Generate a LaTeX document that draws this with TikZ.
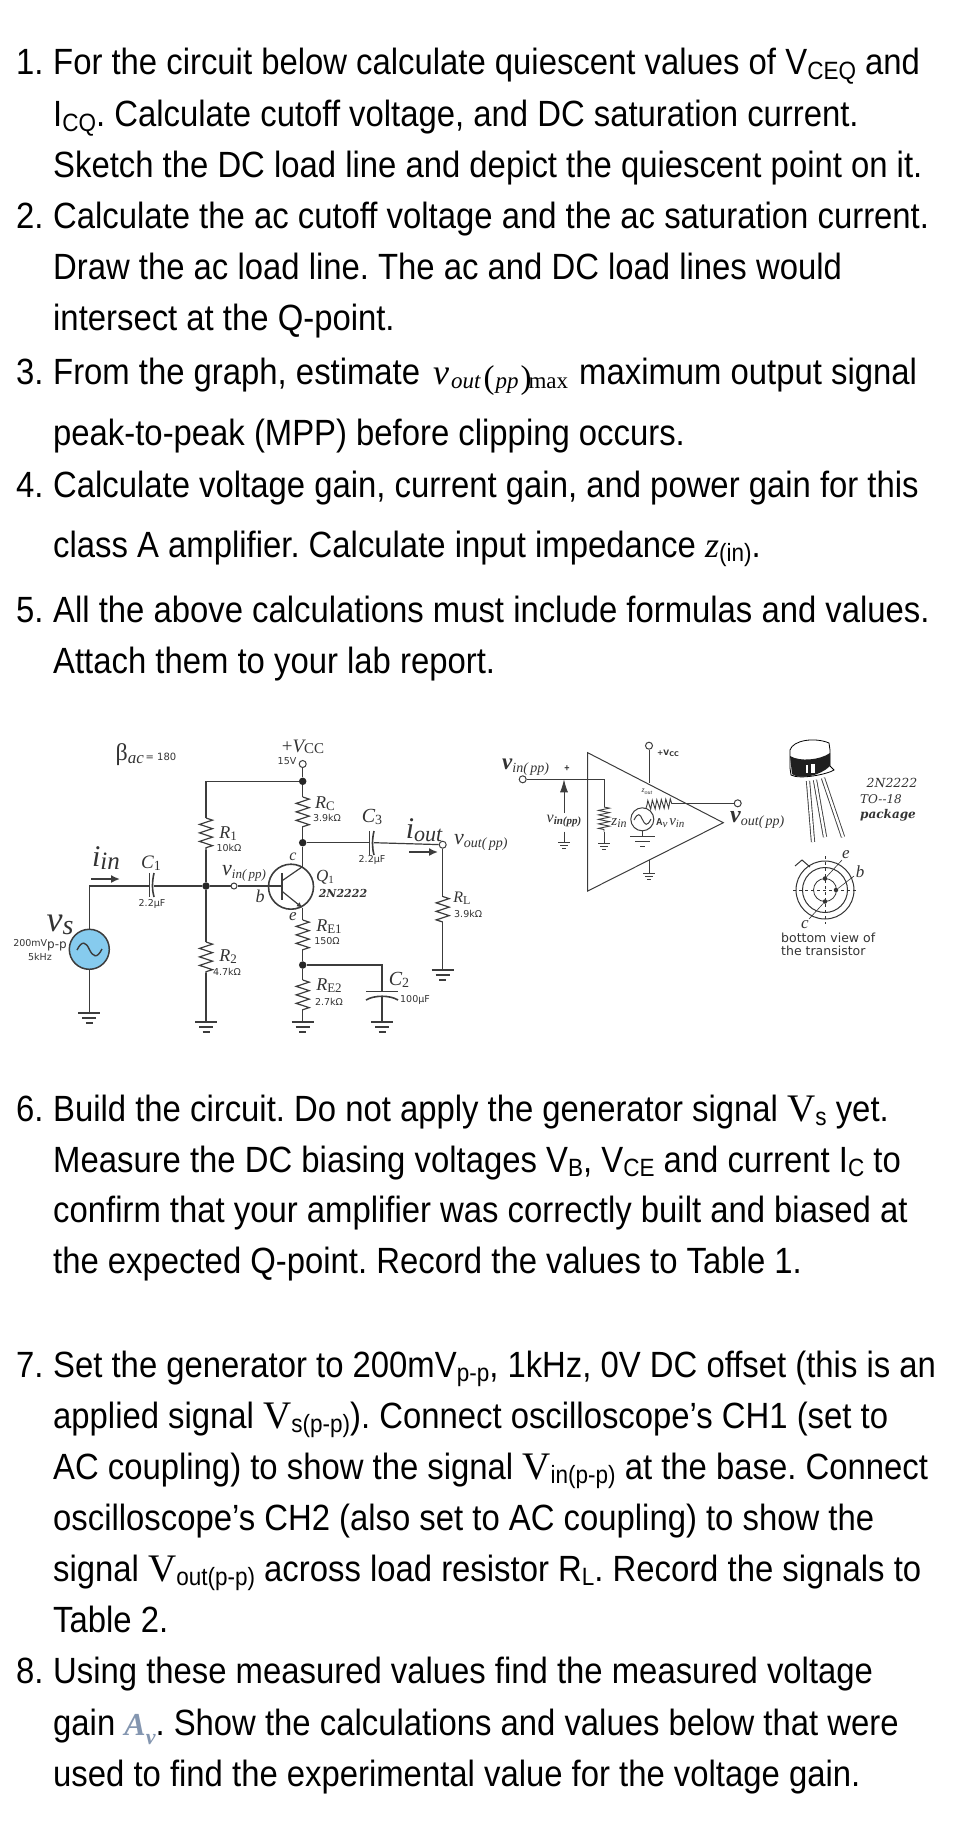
\documentclass[tikz,border=0pt]{standalone}
\usepackage{fontspec}
\setmainfont{Liberation Sans}[FakeStretch=0.90]
\newfontfamily\serfont{Liberation Serif}
\newfontfamily\labfont{DejaVu Sans}
\newfontfamily\pkgfont{DejaVu Serif}
\usetikzlibrary{decorations.pathmorphing,arrows.meta,calc}
\definecolor{wirecol}{HTML}{3C3C3C}
\definecolor{srcblue}{HTML}{86CBEE}
\definecolor{avcol}{HTML}{8496B0}
\newcommand{\lsub}[1]{\raisebox{-0.12em}{\fontsize{25}{25}\selectfont #1}}
\newcommand{\sv}[1]{{\fontsize{39}{39}\serfont #1}}
\newcommand{\lab}[2]{{\serfont\itshape\fontsize{#1}{#1}\selectfont #2}}
\newcommand{\dn}[2]{\raisebox{-0.3ex}{\fontsize{#1}{#1}\selectfont #2}}
\tikzset{
    txt/.style={anchor=base west, inner sep=0pt, font=\fontsize{36.5}{40}\selectfont},
    wire/.style={draw=wirecol, line width=1.2pt},
    res/.style={wire, decorate, decoration={zigzag, amplitude=6.5pt, segment length=8.5pt}},
    open/.style={circle, draw=wirecol, fill=white, line width=1pt, minimum size=7pt, inner sep=0pt},
    dot/.style={circle, fill=black!85, minimum size=7.5pt, inner sep=0pt},
    val/.style={inner sep=0pt, font=\labfont\fontsize{9.5}{10}\selectfont, text=black!80},
    sym/.style={inner sep=0pt, text=black!80},
    pics/gnd/.style={code={
        \draw[wirecol, line width=1.5pt] (-11,0) -- (11,0);
        \draw[wirecol, line width=1.5pt] (-7,5) -- (7,5);
        \draw[wirecol, line width=1.5pt] (-3.5,10) -- (3.5,10);
    }},
    pics/gndb/.style={code={
        \draw[wirecol, line width=1pt] (-6,0) -- (6,0);
        \draw[wirecol, line width=1pt] (-4,3) -- (4,3);
        \draw[wirecol, line width=1pt] (-2,6) -- (2,6);
    }}
}
\begin{document}
\frenchspacing
\begin{tikzpicture}[x=1pt,y=-1pt]
\useasboundingbox (0,0) rectangle (967,1822);

% questions above the circuit
\node[txt] (n1) at (16,75) {1.};
\node[txt] (l1) at (53,75) {For the circuit below calculate quiescent values of V\lsub{CEQ} and};
\node[txt] (l2) at (53,127) {I\lsub{CQ}. Calculate cutoff voltage, and DC saturation current.};
\node[txt] (l3) at (53,178) {Sketch the DC load line and depict the quiescent point on it.};
\node[txt] (n2) at (16,229) {2.};
\node[txt] (l4) at (53,229) {Calculate the ac cutoff voltage and the ac saturation current.};
\node[txt] (l5) at (53,279) {Draw the ac load line. The ac and DC load lines would};
\node[txt] (l6) at (53,330) {intersect at the Q-point.};
\node[txt] (n3) at (16,384) {3.};
\node[txt] (l7) at (53,384) {From the graph, estimate};
\node[anchor=base west, inner sep=0pt] (vmax) at (433,384) {\lab{36}{v}\raisebox{-0.4em}{\hspace{2pt}\lab{23}{out}\hspace{3pt}\lab{33}{\upshape(}\hspace{1pt}\lab{23}{pp}\hspace{2pt}\lab{33}{\upshape)}\hspace{-3pt}{\serfont\fontsize{23}{23}\selectfont max}}};
\node[txt] (l8) at (579,384) {maximum output signal};
\node[txt] (l9) at (53,445) {peak-to-peak (MPP) before clipping occurs.};
\node[txt] (n4) at (16,497) {4.};
\node[txt] (l10) at (53,497) {Calculate voltage gain, current gain, and power gain for this};
\node[txt] (l11) at (53,557) {class A amplifier. Calculate input impedance \lab{36}{z}\lsub{(in)}.};
\node[txt] (n5) at (16,622) {5.};
\node[txt] (l12) at (53,622) {All the above calculations must include formulas and values.};
\node[txt] (l13) at (53,673) {Attach them to your lab report.};

% questions below the circuit
\node[txt] (n6) at (16,1121) {6.};
\node[txt] (l14) at (53,1121) {Build the circuit. Do not apply the generator signal \sv{V}\lsub{s} yet.};
\node[txt] (l15) at (53,1172) {Measure the DC biasing voltages V\lsub{B}, V\lsub{CE} and current I\lsub{C} to};
\node[txt] (l16) at (53,1222) {confirm that your amplifier was correctly built and biased at};
\node[txt] (l17) at (53,1273) {the expected Q-point. Record the values to Table 1.};
\node[txt] (n7) at (16,1377) {7.};
\node[txt] (l18) at (53,1377) {Set the generator to 200mV\lsub{p-p}, 1kHz, 0V DC offset (this is an};
\node[txt] (l19) at (53,1428) {applied signal \sv{V}\lsub{s(p-p)}). Connect oscilloscope's CH1 (set to};
\node[txt] (l20) at (53,1479) {AC coupling) to show the signal \sv{V}\lsub{in(p-p)} at the base. Connect};
\node[txt] (l21) at (53,1530) {oscilloscope's CH2 (also set to AC coupling) to show the};
\node[txt] (l22) at (53,1581) {signal \sv{V}\lsub{out(p-p)} across load resistor R\lsub{L}. Record the signals to};
\node[txt] (l23) at (53,1632) {Table 2.};
\node[txt] (n8) at (16,1683) {8.};
\node[txt] (l24) at (53,1683) {Using these measured values find the measured voltage};
\node[txt] (l25) at (53,1735) {gain \textcolor{avcol}{\lab{32}{\bfseries A}\raisebox{-0.25em}{\lab{22}{\bfseries v}}}. Show the calculations and values below that were};
\node[txt] (l26) at (53,1786) {used to find the experimental value for the voltage gain.};

% bias network
\node[open] (vcc) at (302.7,764) {};
\node[dot] (top) at (302.7,781.3) {};
\coordinate (topl) at (206,781.3);
\coordinate (r1a) at (206,818);
\coordinate (r1b) at (206,850);
\node[dot] (base) at (206,886) {};
\coordinate (r2a) at (206,942);
\coordinate (r2b) at (206,973);
\coordinate (g2) at (206,1022);
\draw[wire] (vcc) -- (top) -- (topl) -- (r1a);
\draw[res] (r1a) -- (r1b);
\draw[wire] (r1b) -- (base) -- (r2a);
\draw[res] (r2a) -- (r2b);
\draw[wire] (r2b) -- (g2);
\pic at (g2) {gnd};

% source and input
\node[circle, draw=wirecol, fill=srcblue, line width=1.5pt, minimum size=40pt, inner sep=0pt] (vs) at (89.3,949.3) {};
\draw[wirecol, line width=1.4pt] (77,950) .. controls (82,940) and (86,942) .. (89.3,949.3) .. controls (93,957) and (97,959) .. (102,949);
\coordinate (vscor) at (89.3,886);
\coordinate (c1l) at (149.5,886);
\coordinate (c1r) at (154,886);
\coordinate (gs) at (89.3,1013);
\draw[wire] (vs) -- (vscor) -- (c1l);
\draw[wire] (c1r) -- (base);
\draw[wire] (vs) -- (gs);
\pic at (gs) {gnd};
\draw[wirecol, line width=1.6pt] (149.5,873) -- (149.5,897);
\draw[wirecol, line width=1.6pt] (154,873) .. controls (152,882) and (152,890) .. (154,897);
\draw[-{Latex[length=9pt,width=8pt]}, wirecol, line width=1.6pt] (91,879) -- (120,879);

% transistor
\node[open, minimum size=6pt] (vb) at (234,886) {};
\node[circle, draw=wirecol, line width=1.6pt, minimum size=45pt, inner sep=0pt] (q1) at (291,886.7) {};
\coordinate (qb) at (281.7,886);
\coordinate (qc) at (302.7,866.5);
\coordinate (qe) at (302.7,908);
\draw[wire] (base) -- (vb) -- (qb);
\draw[wirecol, line width=2pt] (281.7,873) -- (281.7,900);
\draw[wire] (281.7,881) -- (qc);
\draw[wire, -{Latex[length=6pt,width=5pt]}] (281.7,891) -- (qe);

% collector side
\node[dot] (cn) at (302.7,842.7) {};
\coordinate (rca) at (302.7,797);
\coordinate (rcb) at (302.7,827);
\draw[wire] (top) -- (rca);
\draw[res] (rca) -- (rcb);
\draw[wire] (rcb) -- (cn) -- (qc);
\node[open] (vo) at (442.7,844.7) {};
\coordinate (c3l) at (369.5,842.7);
\coordinate (c3r) at (374,842.7);
\coordinate (voc) at (442.7,842.7);
\draw[wire] (cn) -- (c3l);
\draw[wire] (c3r) -- (vo);
\draw[wirecol, line width=1.6pt] (369.5,831) -- (369.5,855);
\draw[wirecol, line width=1.6pt] (374,831) .. controls (372,840) and (372,847) .. (374,855);
\draw[-{Latex[length=9pt,width=8pt]}, wirecol, line width=1.6pt] (409,852) -- (438,852);
\coordinate (rla) at (442.7,896.5);
\coordinate (rlb) at (442.7,922);
\coordinate (gl) at (442.7,970);
\draw[wire] (vo) -- (rla);
\draw[res] (rla) -- (rlb);
\draw[wire] (rlb) -- (gl);
\pic at (gl) {gnd};

% emitter side
\coordinate (rea) at (302.7,920);
\coordinate (reb) at (302.7,950);
\node[dot] (en) at (302.7,965) {};
\coordinate (rfa) at (302.7,980);
\coordinate (rfb) at (302.7,1010);
\coordinate (g3) at (302.7,1022);
\coordinate (c2cor) at (382,965);
\coordinate (c2a) at (382,991.5);
\coordinate (c2b) at (382,997);
\coordinate (g4) at (382,1022);
\draw[wire] (qe) -- (rea);
\draw[res] (rea) -- (reb);
\draw[wire] (reb) -- (en) -- (rfa);
\draw[res] (rfa) -- (rfb);
\draw[wire] (rfb) -- (g3);
\pic at (g3) {gnd};
\draw[wire] (en) -- (c2cor) -- (c2a);
\draw[wirecol, line width=1.6pt] (366,991.5) -- (398,991.5);
\draw[wirecol, line width=1.6pt] (366,1000) .. controls (374,995) and (390,995) .. (398,1000);
\draw[wire] (c2b) -- (g4);
\pic at (g4) {gnd};

% circuit labels
\node[sym] (beta) at (146,755) {{\serfont\fontsize{24}{24}\selectfont β}\raisebox{-0.3em}{\lab{17}{ac}}\,{\labfont\fontsize{10}{10}\selectfont = 180}};
\node[sym] (vcclab) at (303,747) {\lab{19}{{\upshape+}V}\raisebox{-0.15em}{\lab{15}{\upshape CC}}};
\node[val] (v15) at (287,761) {15V};
\node[sym] (iin) at (106,858) {\lab{30}{i}\raisebox{-0.3em}{\lab{25}{in}}};
\node[sym] (c1lab) at (151,863) {\lab{19}{C}\raisebox{-0.2em}{\lab{14}{\upshape 1}}};
\node[val] (c1val) at (152,904) {2.2µF};
\node[sym] (vslab) at (60,925) {\lab{36}{v}\raisebox{-0.25em}{\lab{28}{s}}};
\node[val, align=center] (vsval) at (40,950) {200mV\dn{12}{p-p}\\[1pt]5kHz};
\node[sym] (r1lab) at (228,834) {\lab{18}{R}\raisebox{-0.2em}{\lab{13}{\upshape 1}}};
\node[val] (r1val) at (229,848) {10kΩ};
\node[sym] (r2lab) at (228,957) {\lab{18}{R}\raisebox{-0.2em}{\lab{13}{\upshape 2}}};
\node[val] (r2val) at (227,972) {4.7kΩ};
\node[sym] (vinlab) at (244,873) {\lab{22}{v}\raisebox{-0.3em}{\lab{13}{in(\,pp)}}};
\node[sym] (clab) at (293,857) {\lab{16}{c}};
\node[sym] (blab) at (260,896) {\lab{18}{b}};
\node[sym] (elab) at (293,917) {\lab{17}{e}};
\node[sym] (q1lab) at (325,877) {\lab{17}{Q}\raisebox{-0.2em}{\lab{11}{\upshape 1}}};
\node[sym, font=\pkgfont\itshape\bfseries\fontsize{11}{11}\selectfont] (q1name) at (343,893) {2N2222};
\node[sym] (rclab) at (325,804) {\lab{18}{R}\raisebox{-0.2em}{\lab{13}{\upshape C}}};
\node[val] (rcval) at (327,818) {3.9kΩ};
\node[sym] (c3lab) at (372,817) {\lab{20}{C}\raisebox{-0.2em}{\lab{14}{\upshape 3}}};
\node[val] (c3val) at (372,860) {2.2µF};
\node[sym] (ioutlab) at (424,830) {\lab{30}{i}\raisebox{-0.3em}{\lab{22}{out}}};
\node[sym, anchor=west] (volab) at (454,842) {\lab{22}{v}\raisebox{-0.3em}{\lab{14}{out(\,pp)}}};
\node[sym] (rllab) at (462,898) {\lab{16}{R}\raisebox{-0.2em}{\lab{12}{\upshape L}}};
\node[val, anchor=west] (rlval) at (454,914) {3.9kΩ};
\node[sym] (re1lab) at (329,927) {\lab{18}{R}\raisebox{-0.2em}{\lab{13}{\upshape E1}}};
\node[val] (re1val) at (327,941) {150Ω};
\node[sym] (re2lab) at (329,986) {\lab{18}{R}\raisebox{-0.2em}{\lab{13}{\upshape E2}}};
\node[val] (re2val) at (329,1002) {2.7kΩ};
\node[sym] (c2lab) at (399,980) {\lab{20}{C}\raisebox{-0.2em}{\lab{14}{\upshape 2}}};
\node[val] (c2val) at (415,1000) {100µF};

% amplifier block
\coordinate (ta) at (587.7,752.7);
\coordinate (tb) at (587.7,891);
\coordinate (tc) at (723.3,822.7);
\draw[wirecol, line width=1pt] (ta) -- (tb) -- (tc) -- cycle;
\node[open] (ain) at (522.7,779.3) {};
\coordinate (zcor) at (604,779.3);
\coordinate (za) at (604,807);
\coordinate (zb) at (604,831.7);
\coordinate (gz) at (604,843);
\draw[wire, line width=0.9pt] (ain) -- (zcor) -- (za);
\draw[wire, line width=0.9pt, decorate, decoration={zigzag, amplitude=5.5pt, segment length=4.5pt}] (za) -- (zb);
\draw[wire, line width=0.9pt] (zb) -- (gz);
\pic at (gz) {gndb};
\coordinate (arra) at (564,813);
\coordinate (arrb) at (564,779.3);
\coordinate (arrc) at (564,831.7);
\coordinate (garr) at (564,842);
\draw[-{Latex[length=13pt,width=8pt]}, wirecol, line width=0.9pt] (arra) -- (arrb);
\draw[wire, line width=0.9pt] (arrc) -- (garr);
\pic at (garr) {gndb};
\node[open] (avcc) at (649,745.7) {};
\coordinate (avccb) at (649,783.3);
\draw[wire, line width=0.9pt] (avcc) -- (avccb);
\coordinate (avga) at (649,860);
\coordinate (gav) at (649,873);
\draw[wire, line width=0.9pt] (avga) -- (gav);
\pic at (gav) {gndb};
\node[circle, draw=wirecol, line width=1pt, minimum size=23pt, inner sep=0pt] (avs) at (642.3,819.3) {};
\draw[wirecol, line width=1pt] (634,820) .. controls (638,812) and (640,814) .. (642.3,819.3) .. controls (645,825) and (647,827) .. (651,819);
\coordinate (avsg) at (642.3,836);
\draw[wire, line width=0.9pt] (avs) -- (avsg);
\draw[wirecol, line width=0.9pt] (630,836) -- (655,836);
\draw[wirecol, line width=0.9pt] (635,841) -- (650,841);
\draw[wirecol, line width=0.9pt] (640,846) -- (645,846);
\coordinate (zo1) at (647,805);
\coordinate (zo2) at (671.7,803.3);
\draw[wire, line width=0.9pt] (avs) -- (zo1);
\draw[wire, line width=0.9pt, decorate, decoration={zigzag, amplitude=4.5pt, segment length=4.5pt}] (zo1) -- (zo2);
\node[open] (aout) at (737.7,803.3) {};
\draw[wire, line width=0.9pt] (zo2) -- (aout);
\node[sym] (plus) at (567,769) {\fontsize{10}{10}\selectfont\bfseries +};
\node[sym, anchor=west] (avin) at (502,767) {\lab{23}{\bfseries v}\raisebox{-0.3em}{\lab{14}{in(\,pp)}}};
\node[sym] (avin2) at (564,821) {\lab{16}{v}\raisebox{-0.25em}{\lab{11}{\bfseries in(pp)}}};
\node[sym] (zinlab) at (619,823) {\lab{15}{z}\raisebox{-0.25em}{\lab{12}{in}}};
\node[sym] (zoutlab) at (647,792) {\lab{8}{z}\raisebox{-0.2em}{\lab{6}{out}}};
\node[sym, anchor=west] (avlab) at (656,823) {{\bfseries\fontsize{10}{10}\selectfont A}\raisebox{-0.2em}{\lab{11}{v}}\,\lab{15}{v}\raisebox{-0.2em}{\lab{11}{in}}};
\node[sym] (vcc2) at (668,753) {{\labfont\fontsize{7.5}{8}\selectfont\bfseries +V}\raisebox{-0.2ex}{\labfont\fontsize{6.5}{7}\selectfont\bfseries CC}};
\node[sym, anchor=west] (aoutlab) at (730,820) {\lab{24}{\bfseries v}\raisebox{-0.3em}{\lab{14}{out(\,pp)}}};

% TO-18 package
\draw[draw=black, fill=white, line width=0.8pt] (791,775) -- (790,768) -- (790,750) .. controls (793,740) and (815,737) .. (829,743) -- (830,750) -- (830,766) -- (834,770) .. controls (828,774) and (800,780) .. (791,775) -- cycle;
\fill[black!88] (790,756) .. controls (800,762) and (820,760) .. (830,753) -- (830,766) .. controls (820,776) and (800,780) .. (792,774) -- cycle;
\fill[white] (806,765) rectangle (808,773);
\fill[white] (811,764) rectangle (815,773);
\foreach \xa/\ya/\xb/\yb in {808/781/813/842, 815/780/825/837, 823/778/843/837}{
    \draw[black!75, line width=4.2pt] (\xa,\ya) -- (\xb,\yb);
    \draw[white, line width=2.4pt] (\xa,\ya) -- (\xb,\yb);
}
\node[sym, font=\pkgfont\itshape\fontsize{12.5}{13}\selectfont] (pk1) at (892,783) {2N2222};
\node[sym, font=\pkgfont\itshape\fontsize{12}{13}\selectfont] (pk2) at (881,799) {TO--18};
\node[sym, font=\pkgfont\itshape\bfseries\fontsize{12}{13}\selectfont] (pk3) at (888,815) {package};

% bottom view
\coordinate (bv) at (825,890);
\draw[black!80, line width=1pt] (795,866) -- (802,860) -- (810,867);
\node[circle, draw=black!80, line width=1pt, minimum size=58pt, inner sep=0pt] (bvo) at (bv) {};
\node[circle, draw=black!80, line width=1pt, minimum size=45pt, inner sep=0pt] (bvm) at (bv) {};
\node[circle, draw=black!80, line width=0.8pt, minimum size=23pt, inner sep=0pt] (bvi) at (bv) {};
\draw[black!80, line width=0.7pt, dashed] (793,890) -- (857,890);
\draw[black!80, line width=0.7pt, dashed] (825,856) -- (825,924);
\node[circle, fill=black!80, minimum size=4.5pt, inner sep=0pt] (pe) at (825,878.5) {};
\node[circle, fill=black!80, minimum size=4.5pt, inner sep=0pt] (pb) at (836,890) {};
\node[circle, fill=black!80, minimum size=4.5pt, inner sep=0pt] (pc) at (825,901.5) {};
\node[sym] (ne) at (846,855) {\lab{17}{e}};
\node[sym] (nb) at (860,872) {\lab{17}{b}};
\node[sym] (nc) at (805,925) {\lab{17}{c}};
\draw[black!80, line width=0.6pt] (pe) -- (842,860);
\draw[black!80, line width=0.6pt] (pb) -- (854,876);
\draw[black!80, line width=0.6pt] (pc) -- (809,919);
\node[sym, anchor=west, align=left, font=\labfont\fontsize{12.5}{13}\selectfont] (bvtxt) at (781,944) {bottom view of\\the transistor};
\end{tikzpicture}
\end{document}
